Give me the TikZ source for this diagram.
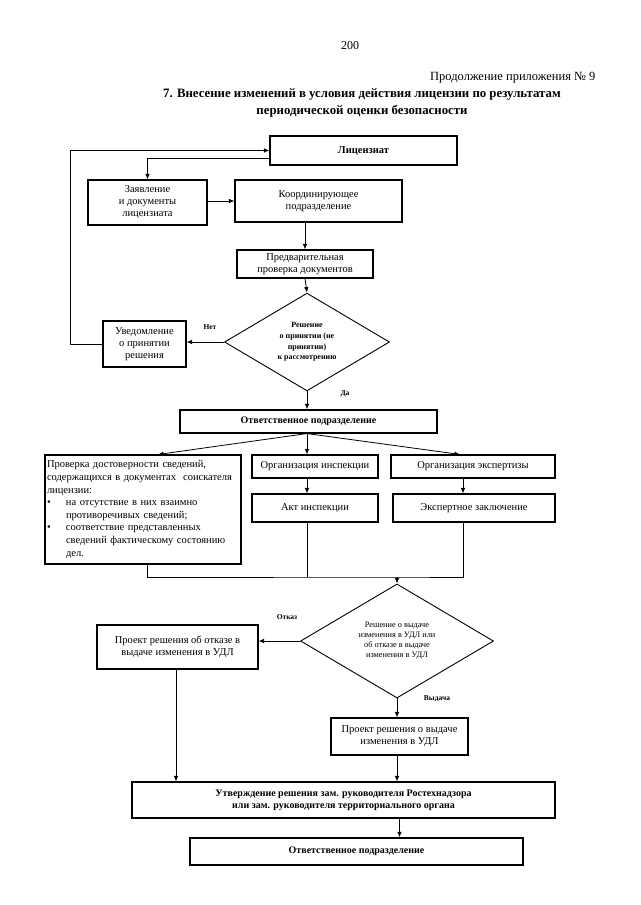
\documentclass[tikz,border=0pt]{standalone}
\usepackage{fontspec}
\setmainfont{Liberation Serif}
\usetikzlibrary{shapes.geometric,arrows.meta,calc}
\begin{document}
\begin{tikzpicture}[x=1pt,y=-1pt,
  box/.style={draw,line width=1.1pt,inner sep=1pt,align=center,font=\fontsize{10.5}{12}\selectfont},
  dia/.style={draw,diamond,line width=0.9pt,inner sep=0pt,align=center},
  conn/.style={line width=0.8pt},
  arr/.style={conn,-{Latex[length=5.5pt,width=4.5pt]}},
  lbl/.style={font=\bfseries\fontsize{7.5}{9}\selectfont,inner sep=0pt}
]
\useasboundingbox (0,0) rectangle (640,905);

% header
\node[font=\fontsize{12}{14}\selectfont] (page) at (350,46) {200};
\node[font=\fontsize{12.5}{14}\selectfont,anchor=east] (prod) at (599,78) {Продолжение приложения № 9};
\node[font=\bfseries\fontsize{12.8}{17}\selectfont,align=center] (title) at (362,102.5)
  {7. Внесение изменений в условия действия лицензии по результатам\\периодической оценки безопасности};

% boxes
\node[box,minimum width=187pt,minimum height=29pt,font=\bfseries\fontsize{10.5}{12}\selectfont] (lic) at (363.5,150.5) {Лицензиат};
\node[box,minimum width=119pt,minimum height=45pt] (zay) at (147.5,202.5) {Заявление\\и документы\\лицензиата};
\node[box,minimum width=167pt,minimum height=42pt] (koord) at (318.5,201) {Координирующее\\подразделение};
\node[box,minimum width=136pt,minimum height=28pt] (pred) at (305,264) {Предварительная\\проверка документов};
\node[dia,minimum width=165pt,minimum height=91pt,font=\bfseries\fontsize{8}{10.7}\selectfont] (d1) at (307,342)
  {Решение\\о принятии (не\\принятии)\\к рассмотрению};
\node[box,minimum width=83pt,minimum height=46pt] (uved) at (144.5,344) {Уведомление\\о принятии\\решения};
\node[box,minimum width=257pt,minimum height=23pt,font=\bfseries\fontsize{10}{12}\selectfont] (otv1) at (308.5,421.5) {Ответственное подразделение};

\node[box,minimum width=196pt,minimum height=109pt,text width=192pt,align=left,inner sep=1.5pt,font=\fontsize{10.5}{12.6}\selectfont] (prov) at (143,509.5)
  {Проверка достоверности сведений,\\
   содержащихся в документах\ \ соискателя\\
   лицензии:\\
   \makebox[19pt][l]{•}на отсутствие в них взаимно\\
   \hspace*{19pt}противоречивых сведений;\\
   \makebox[19pt][l]{•}соответствие представленных\\
   \hspace*{19pt}сведений фактическому состоянию\\
   \hspace*{19pt}дел.};
\node[box,minimum width=126pt,minimum height=23pt] (orgi) at (315,466.5) {Организация инспекции};
\node[box,minimum width=164pt,minimum height=23pt] (orge) at (473,466.5) {Организация экспертизы};
\node[box,minimum width=126pt,minimum height=28pt] (akt) at (315,508) {Акт инспекции};
\node[box,minimum width=162pt,minimum height=28pt] (eksp) at (474,508) {Экспертное заключение};

\node[dia,minimum width=193pt,minimum height=96pt,font=\fontsize{8.3}{10}\selectfont] (d2) at (397,641)
  {Решение о выдаче\\изменения в УДЛ или\\об отказе в выдаче\\изменения в УДЛ};
\node[box,minimum width=161pt,minimum height=44pt] (otkaz) at (177.5,647) {Проект решения об отказе в\\выдаче изменения в УДЛ};
\node[box,minimum width=137pt,minimum height=37pt] (vyd) at (399.5,736.5) {Проект решения о выдаче\\изменения в УДЛ};
\node[box,minimum width=423pt,minimum height=36pt,font=\bfseries\fontsize{10}{12}\selectfont] (utv) at (343.5,800)
  {Утверждение решения зам. руководителя Ростехнадзора\\или зам. руководителя территориального органа};
\node[box,minimum width=333pt,minimum height=27pt,font=\bfseries\fontsize{10}{12}\selectfont] (otv2) at (356.5,851.5) {Ответственное подразделение};

% labels
\node[lbl] (net) at (210,327) {Нет};
\node[lbl] (da) at (345,394) {Да};
\node[lbl] (otk) at (287,617) {Отказ};
\node[lbl] (vydl) at (437,699) {Выдача};

% connectors
\draw[arr] (uved.west) -- ++(-32,0) |- (lic.west);
\draw[arr] ([yshift=-8pt]lic.west) -| (zay.north);
\draw[arr] (zay.east |- koord.west) -- (koord.west);
\draw[arr] (pred.north |- koord.south) -- (pred.north);
\draw[arr] (pred.south) -- (d1.north);
\draw[arr] (d1.west) -- (d1.west -| uved.east);
\draw[arr] (d1.south) -- (d1.south |- otv1.north);

\coordinate (ob) at (d1.south |- otv1.south);
\draw[arr] (ob) -- ([xshift=15pt]prov.north);
\draw[arr] (ob) -- (ob |- orgi.north);
\draw[arr] (ob) -- ([xshift=-13pt]orge.north);
\draw[arr] (ob |- orgi.south) -- (ob |- akt.north);
\draw[arr] ([xshift=-10pt]orge.south) -- ([xshift=-11pt]eksp.north);

\coordinate (bus) at (397,577);
\draw[conn] ([xshift=4pt]prov.south) |- (bus) -| ([xshift=-11pt]eksp.south);
\draw[conn] (ob |- akt.south) -- (ob |- bus);
\draw[arr] (bus) -- (d2.north);

\draw[arr] (d2.west) -- (d2.west -| otkaz.east);
\draw[arr] (d2.south) -- (d2.south |- vyd.north);
\draw[arr] ([xshift=-1.5pt]otkaz.south) -- ([xshift=-1.5pt]otkaz.south |- utv.north);
\draw[arr] ([xshift=-2.5pt]vyd.south) -- ([xshift=-2.5pt]vyd.south |- utv.north);
\draw[arr] ([xshift=0pt]vyd.south |- utv.south) -- ([xshift=0pt]vyd.south |- otv2.north);
\end{tikzpicture}
\end{document}
